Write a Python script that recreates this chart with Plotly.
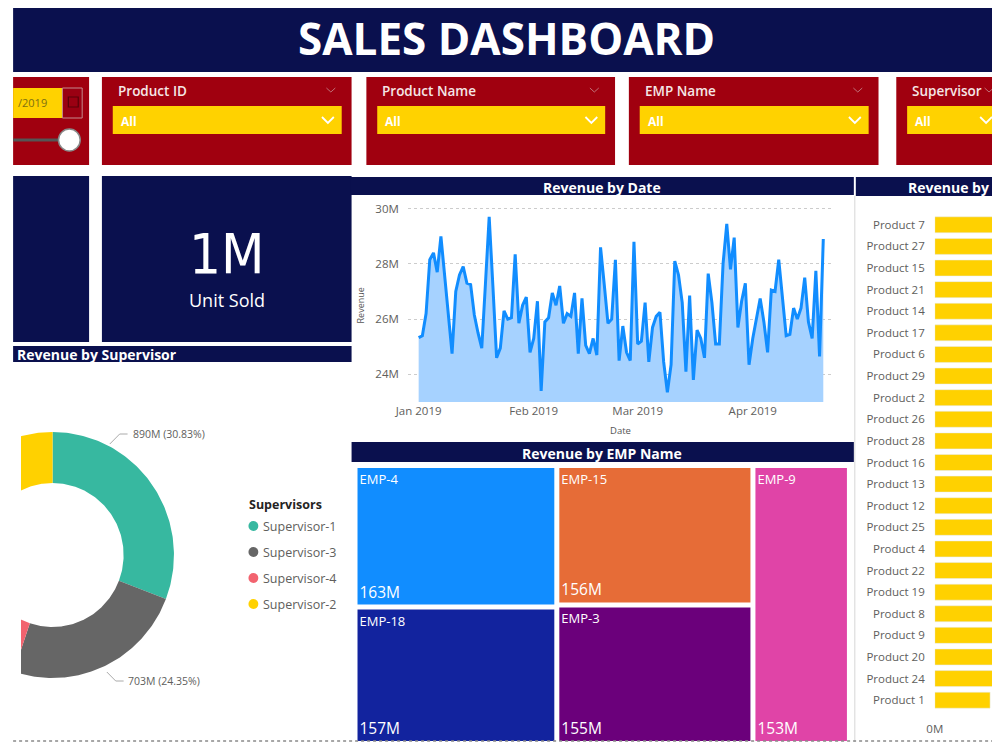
import plotly.graph_objects as go
import pandas as pd
import numpy as np

# figure size chosen so that the page (with the browser's 8px body margin) fits the 1000x750 window
FW, FH = 984, 734
OX, OY = 8, 8


def px(x):
    return (x - OX) / FW


def py(y):
    return 1 - (y - OY) / FH


def clamp(v):
    return min(1.0, max(0.0, v))


# ---------------- DATA ----------------
title_text = "SALES DASHBOARD"
filter_labels = ["Product ID", "Product Name", "EMP Name", "Supervisor"]
filter_value = "All"
date_text = "/2019"
unit_sold_value = "1M"
unit_sold_label = "Unit Sold"

dates = pd.date_range("2019-01-01", periods=110, freq="D")
rev_jan = [25.33, 25.4, 26.2, 28.15, 28.4, 27.7, 29.0, 27.6, 26.2, 24.75, 27.0, 27.6, 27.9, 27.3, 27.25, 26.15,
           25.5, 24.95, 27.3, 29.7, 27.2, 24.6, 24.95, 26.3, 26.0, 26.05, 28.35, 25.85, 26.5, 26.8, 24.8]
rev_feb = [25.3, 26.65, 23.4, 25.9, 26.05, 26.95, 26.5, 27.2, 25.85, 26.2, 26.1, 26.95, 24.75, 26.75, 25.05,
           24.75, 25.3, 24.7, 28.6, 27.25, 25.85, 26.0, 28.15, 24.5, 25.75, 24.8, 24.5, 28.8]
rev_mar = [25.1, 25.2, 26.6, 24.45, 25.7, 26.1, 26.25, 24.45, 23.35, 24.35, 28.1, 27.6, 26.6, 24.1, 26.85, 23.8,
           25.6, 25.3, 24.6, 27.65, 26.6, 25.1, 25.1, 28.0, 29.45, 27.8, 28.95, 25.7, 26.65, 27.3, 24.35]
rev_apr = [25.3, 26.05, 26.75, 25.9, 24.8, 27.05, 27.0, 28.15, 26.65, 25.4, 25.45, 26.4, 26.0, 26.4, 27.5, 25.9,
           25.3, 27.75, 24.65, 28.9]
daily_revenue = rev_jan + rev_feb + rev_mar + rev_apr   # in millions
revenue_ticks = [24, 26, 28, 30]

products = ["Product 7", "Product 27", "Product 15", "Product 21", "Product 14", "Product 17", "Product 6",
            "Product 29", "Product 2", "Product 26", "Product 28", "Product 16", "Product 13", "Product 12",
            "Product 25", "Product 4", "Product 22", "Product 19", "Product 8", "Product 9", "Product 20",
            "Product 24", "Product 1"]
product_revenue = [120, 118, 116, 114, 112, 111, 110, 108, 107, 106, 105, 104, 103, 102, 101, 100, 99, 98, 97,
                   96, 95, 94, 88]

supervisors = ["Supervisor-1", "Supervisor-3", "Supervisor-4", "Supervisor-2"]
supervisor_revenue = [890, 703, 650, 644]
supervisor_colors = ["#37b8a0", "#666666", "#f2636f", "#ffd100"]

emp_names = ["EMP-4", "EMP-18", "EMP-15", "EMP-3", "EMP-9"]
emp_revenue = [163, 157, 156, 155, 153]
emp_colors = ["#118dff", "#12239e", "#e66c37", "#6b007b", "#e044a7"]

# ---------------- STYLE ----------------
NAVY = "#0a104e"
RED = "#a0000f"
YELLOW = "#ffd200"
GRAY_TXT = "#605e5c"
FONT = "Open Sans"

shapes = []
annotations = []


def rect(x0, y0, x1, y1, fill, line_color=None, lw=0, layer="below"):
    shapes.append(dict(type="rect", xref="paper", yref="paper", x0=px(x0), x1=px(x1), y0=py(y1), y1=py(y0),
                       fillcolor=fill, line=dict(color=line_color or fill, width=lw), layer=layer))


def text(x, y, s, size=12, color="white", weight="normal", xanchor="center", angle=0, family=FONT):
    annotations.append(dict(x=px(x), y=py(y), xref="paper", yref="paper", text=s, showarrow=False,
                            xanchor=xanchor, yanchor="middle", textangle=angle,
                            font=dict(size=size, color=color, family=family, weight=weight)))


def chevron(cx, cy, w, h, color, lw=1.5):
    path = (f"M {px(cx - w / 2)},{py(cy - h / 2)} L {px(cx)},{py(cy + h / 2)} "
            f"L {px(cx + w / 2)},{py(cy - h / 2)}")
    shapes.append(dict(type="path", xref="paper", yref="paper", path=path,
                       line=dict(color=color, width=lw), layer="above"))


def segment(x0, y0, x1, y1, color, lw=1, dash="solid", layer="above"):
    shapes.append(dict(type="line", xref="paper", yref="paper", x0=px(x0), y0=py(y0), x1=px(x1), y1=py(y1),
                       line=dict(color=color, width=lw, dash=dash), layer=layer))


# Title banner
rect(0, 1, 1000, 72, NAVY)
text(500, 38, f"<b>{title_text}</b>", size=44, color="white")

# Filter slicers
rect(0, 77, 77, 165, RED)
rect(0, 88, 50, 118, YELLOW)
text(36, 103, date_text, size=11, color="#7d7012", xanchor="right")
rect(50, 88, 70, 118, "#9a0012", line_color="#c48a8e", lw=1)
rect(56, 97, 66, 107, "#9a0012", line_color="#5a0008", lw=1.2)
segment(0, 140, 47, 140, "#555555", lw=3)
shapes.append(dict(type="circle", xref="paper", yref="paper", x0=px(46), x1=px(68), y0=py(151), y1=py(129),
                   fillcolor="white", line=dict(color="#888888", width=1.5), layer="above"))

boxes = [(90, 343), (358, 610), (624, 877), (895, 1010)]
for (bx0, bx1), lab in zip(boxes, filter_labels):
    rect(bx0, 77, bx1, 165, RED)
    rect(bx0 + 11, 106, bx1 - 10, 134, YELLOW)
    text(bx0 + 14, 91, lab, size=13.5, color="#f5e6e6", weight=600, xanchor="left")
    text(bx0 + 17, 122, filter_value, size=12, color="white", weight="bold", xanchor="left")
    chevron(bx1 - 24, 120, 12, 6, "white", lw=1.8)
    chevron(bx1 - 21, 90, 9, 4, "#c07078", lw=1)

# Row 2 cards
rect(0, 176, 77, 342, NAVY)
rect(90, 176, 343, 342, NAVY)
text(217, 254, unit_sold_value, size=56, color="white",
     family="Liberation Sans Narrow, DejaVu Sans Condensed, sans-serif")
text(217, 300, unit_sold_label, size=18, color="white")

# Headers
rect(342, 177, 852, 195, NAVY)
text(597, 187, "<b>Revenue by Date</b>", size=14)
rect(854, 177, 1000, 196, NAVY)
text(905, 187, "<b>Revenue by</b>", size=14, xanchor="left")
rect(0, 346, 343, 362, NAVY)
text(2, 354, "<b>Revenue by Supervisor</b>", size=14, xanchor="left")
rect(343, 442, 852, 462, NAVY)
text(597, 453, "<b>Revenue by EMP Name</b>", size=14)

# Panel borders / bottom dotted line
segment(853, 196, 853, 745, "#d6d6d6", lw=1, layer="below")
segment(0, 741, 1000, 741, "#8a8a8a", lw=1.5, dash="dot")

# Axis titles for line chart
text(352, 305, "Revenue", size=9, color="#555555", angle=-90)
text(616, 430, "Date", size=9.5, color="#555555")

fig = go.Figure()

# ---- Line chart (Revenue by Date) ----
fig.add_trace(go.Scatter(x=dates, y=daily_revenue, mode="lines", fill="tozeroy", fillcolor="#a6d2ff",
                         line=dict(color="#118dff", width=3), showlegend=False, xaxis="x", yaxis="y"))

# ---- Bar chart (Revenue by Product) ----
fig.add_trace(go.Bar(y=products, x=product_revenue, orientation="h", marker=dict(color="#ffd100"),
                     showlegend=False, xaxis="x2", yaxis="y2"))

# ---- Donut (Revenue by Supervisor) ----
R_OUT, R_IN = 123, 72
CX, CY = 40, 555
total = sum(supervisor_revenue)
start = 0.0
for name, val, col in zip(supervisors, supervisor_revenue, supervisor_colors):
    a0 = start / total * 2 * np.pi
    a1 = (start + val) / total * 2 * np.pi
    t = np.linspace(a0, a1, 120)
    xs = np.concatenate([R_OUT * np.sin(t), R_IN * np.sin(t[::-1])])
    ys = np.concatenate([R_OUT * np.cos(t), R_IN * np.cos(t[::-1])])
    fig.add_trace(go.Scatter(x=np.append(xs, xs[0]), y=np.append(ys, ys[0]), fill="toself", fillcolor=col,
                             mode="lines", line=dict(width=0, color=col), name=name, showlegend=False,
                             xaxis="x3", yaxis="y3", hoverinfo="name"))
    start += val

lab1 = f"{supervisor_revenue[0]}M ({supervisor_revenue[0] / total * 100:.2f}%)"
lab2 = f"{supervisor_revenue[1]}M ({supervisor_revenue[1] / total * 100:.2f}%)"
text(119, 434, lab1, size=10.5, color=GRAY_TXT, xanchor="left")
text(114, 681, lab2, size=10.5, color=GRAY_TXT, xanchor="left")
shapes.append(dict(type="path", xref="paper", yref="paper",
                   path=f"M {px(98)},{py(444)} L {px(108)},{py(434)} L {px(116)},{py(434)}",
                   line=dict(color="#aaaaaa", width=1)))
shapes.append(dict(type="path", xref="paper", yref="paper",
                   path=f"M {px(95)},{py(672)} L {px(104)},{py(681)} L {px(112)},{py(681)}",
                   line=dict(color="#aaaaaa", width=1)))

# Legend
text(237, 504, "<b>Supervisors</b>", size=12.5, color="#252423", xanchor="left")
for i, (name, col) in enumerate(zip(supervisors, supervisor_colors)):
    yy = 526 + 26 * i
    shapes.append(dict(type="circle", xref="paper", yref="paper", x0=px(238.5), x1=px(248.5),
                       y0=py(yy + 5), y1=py(yy - 5), fillcolor=col, line=dict(width=0)))
    text(251, yy, name, size=12.5, color=GRAY_TXT, xanchor="left")

# ---- Treemap (Revenue by EMP Name) ----
tm_domain = dict(x=[clamp(px(348)), clamp(px(846))], y=[clamp(py(743)), clamp(py(467))])
no_pad = dict(t=0, l=0, r=0, b=0)
fig.add_trace(go.Treemap(labels=emp_names, parents=[""] * len(emp_names), values=emp_revenue,
                         marker=dict(colors=emp_colors, line=dict(color="white", width=2), pad=no_pad),
                         texttemplate="%{label}", textposition="top left",
                         textfont=dict(size=13, color="white", family=FONT),
                         domain=tm_domain, pathbar=dict(visible=False), sort=True, hoverinfo="label+value"))
fig.add_trace(go.Treemap(labels=emp_names, parents=[""] * len(emp_names), values=emp_revenue,
                         marker=dict(colors=["rgba(0,0,0,0)"] * len(emp_names), line=dict(width=0), pad=no_pad),
                         texttemplate="%{value}M", textposition="bottom left",
                         textfont=dict(size=15.5, color="white", family=FONT),
                         domain=tm_domain, pathbar=dict(visible=False), sort=True, hoverinfo="skip"))

fig.update_layout(
    width=FW, height=FH, margin=dict(l=0, r=0, t=0, b=0),
    paper_bgcolor="white", plot_bgcolor="white",
    font=dict(family=FONT, color=GRAY_TXT),
    showlegend=False,
    shapes=shapes, annotations=annotations,
    xaxis=dict(domain=[clamp(px(400)), clamp(px(832))], range=["2018-12-29 02:00", "2019-04-22 22:00"],
               tickformat="%b %Y", dtick="M1", tick0="2019-01-01", showgrid=False, zeroline=False,
               showline=False, tickfont=dict(size=11.5, color=GRAY_TXT), ticks="", fixedrange=True),
    yaxis=dict(domain=[clamp(py(402)), clamp(py(199))], range=[23.0, 30.35], tickvals=revenue_ticks,
               ticktext=[f"{v}M" for v in revenue_ticks],
               showgrid=True, gridcolor="#cccccc", griddash="dot", gridwidth=1, zeroline=False,
               tickfont=dict(size=11.5, color=GRAY_TXT), ticklabelstandoff=8, fixedrange=True),
    xaxis2=dict(domain=[clamp(px(934)), 1.0], range=[0, 91], dtick=100, ticksuffix="M", showgrid=False,
                zeroline=False, tickfont=dict(size=11.5, color=GRAY_TXT), ticklabelstandoff=9,
                anchor="y2", fixedrange=True),
    yaxis2=dict(domain=[clamp(py(711)), clamp(py(214))], categoryorder="array", categoryarray=products,
                autorange="reversed", showgrid=False, tickfont=dict(size=11.5, color=GRAY_TXT),
                ticklabelstandoff=9, anchor="x2", fixedrange=True),
    xaxis3=dict(domain=[clamp(px(OX)), clamp(px(238))], range=[OX - CX, 238 - CX], visible=False, anchor="y3",
                fixedrange=True),
    yaxis3=dict(domain=[clamp(py(740)), clamp(py(365))], range=[CY - 740, CY - 365], visible=False,
                anchor="x3", fixedrange=True),
    bargap=0.26,
)

fig.write_html("out.html")
